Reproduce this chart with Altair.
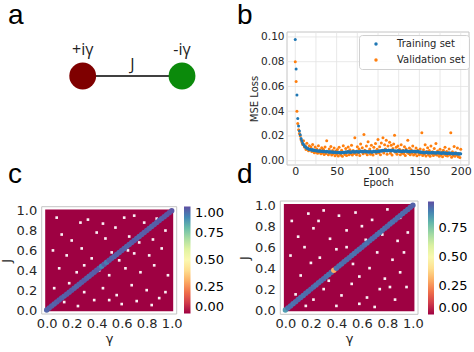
import altair as alt
import pandas as pd

# ---------------- data ----------------
# panel a: two sites joined by a coupling J
site_pos = [0, 1]
site_row = [0, 0]
site_label = ["+iγ", "-iγ"]
site_colour = ["#7f0000", "#0b8a0b"]
label_row = [1, 1]
coupling_label = ["J"]
coupling_pos = [0.5]
coupling_row = [0.42]

# panel b: loss curves
epoch = list(range(201))
train_loss = [
    0.098, 0.074, 0.053, 0.034, 0.028, 0.024, 0.021, 0.018, 0.016, 0.014,
    0.013, 0.012, 0.011, 0.011, 0.010, 0.010, 0.0095, 0.009, 0.0092, 0.0088,
    0.0085, 0.009, 0.0082, 0.0086, 0.008, 0.0083, 0.0079, 0.0081, 0.0077, 0.008,
    0.0076, 0.0079, 0.0074, 0.0078, 0.0072, 0.0076, 0.0075, 0.0071, 0.0077, 0.0073,
    0.0072, 0.0069, 0.0074, 0.007, 0.0068, 0.0073, 0.0066, 0.007, 0.0067, 0.0071,
    0.0065, 0.0069, 0.0064, 0.0068, 0.0066, 0.0063, 0.0067, 0.0065, 0.0069, 0.0064,
    0.0068, 0.0072, 0.0066, 0.007, 0.0074, 0.0069, 0.0073, 0.0067, 0.0071, 0.0075,
    0.007, 0.0074, 0.0068, 0.0072, 0.0077, 0.0071, 0.0075, 0.0069, 0.0073, 0.0078,
    0.0072, 0.0076, 0.007, 0.0074, 0.0079, 0.0073, 0.0077, 0.0071, 0.0075, 0.0069,
    0.0073, 0.0077, 0.0071, 0.0068, 0.0074, 0.0078, 0.0072, 0.0076, 0.007, 0.0074,
    0.0079, 0.0075, 0.0081, 0.0077, 0.0083, 0.0078, 0.0084, 0.008, 0.0086, 0.0081,
    0.0085, 0.0079, 0.0083, 0.0087, 0.0081, 0.0085, 0.0078, 0.0082, 0.0086, 0.008,
    0.0077, 0.0081, 0.0075, 0.0079, 0.0083, 0.0076, 0.008, 0.0074, 0.0078, 0.0072,
    0.0076, 0.008, 0.0074, 0.0078, 0.0082, 0.0075, 0.0079, 0.0073, 0.0077, 0.0071,
    0.0075, 0.0079, 0.0073, 0.0077, 0.0072, 0.0076, 0.007, 0.0074, 0.0078, 0.0072,
    0.0068, 0.0072, 0.0066, 0.007, 0.0065, 0.0069, 0.0063, 0.0067, 0.0071, 0.0065,
    0.0069, 0.0063, 0.0067, 0.0061, 0.0065, 0.0069, 0.0063, 0.0067, 0.0062, 0.0066,
    0.006, 0.0064, 0.0068, 0.0062, 0.0066, 0.006, 0.0064, 0.0058, 0.0062, 0.0066,
    0.006, 0.0064, 0.0058, 0.0062, 0.0056, 0.006, 0.0064, 0.0058, 0.0062, 0.0056,
    0.006, 0.0054, 0.0058, 0.0062, 0.0056, 0.006, 0.0054, 0.0058, 0.0052, 0.0056,
    0.0055,
]
val_loss = [
    0.080, 0.064, 0.040, 0.030, 0.025, 0.022, 0.020, 0.017, 0.015, 0.013,
    0.016, 0.011, 0.012, 0.009, 0.014, 0.010, 0.008, 0.012, 0.0095, 0.011,
    0.0075, 0.013, 0.0085, 0.0065, 0.011, 0.007, 0.0095, 0.006, 0.012, 0.0068,
    0.0088, 0.0055, 0.0105, 0.0062, 0.0092, 0.005, 0.011, 0.0058, 0.016, 0.0072,
    0.0048, 0.0095, 0.006, 0.0115, 0.0045, 0.0082, 0.0055, 0.0102, 0.004, 0.0078,
    0.0052, 0.009, 0.0038, 0.0108, 0.0058, 0.0046, 0.0085, 0.0035, 0.012, 0.0062,
    0.005, 0.0098, 0.0042, 0.0075, 0.011, 0.0048, 0.0088, 0.0055, 0.0125, 0.0045,
    0.0082, 0.0058, 0.0185, 0.0068, 0.0048, 0.0112, 0.0062, 0.0095, 0.0042, 0.0135,
    0.0072, 0.0105, 0.0055, 0.0212, 0.0085, 0.0062, 0.0118, 0.0048, 0.0152, 0.0078,
    0.0095, 0.0052, 0.0125, 0.0068, 0.0045, 0.0108, 0.0072, 0.0138, 0.0058, 0.0092,
    0.0172, 0.0065, 0.0112, 0.0048, 0.0142, 0.0078, 0.0185, 0.0062, 0.0128, 0.0095,
    0.0165, 0.0052, 0.0118, 0.0082, 0.0148, 0.006, 0.0125, 0.0045, 0.0098, 0.0135,
    0.0205, 0.0068, 0.0108, 0.0052, 0.0118, 0.0075, 0.0092, 0.0048, 0.0128, 0.0062,
    0.0085, 0.0055, 0.0112, 0.0042, 0.0095, 0.0068, 0.0165, 0.0058, 0.0102, 0.0048,
    0.0088, 0.0062, 0.0118, 0.0045, 0.0078, 0.0055, 0.0102, 0.004, 0.0085, 0.0065,
    0.0048, 0.0095, 0.0058, 0.0225, 0.0042, 0.0088, 0.0052, 0.0128, 0.0038, 0.0075,
    0.0105, 0.0048, 0.0082, 0.0035, 0.0118, 0.0055, 0.0072, 0.0042, 0.0098, 0.0052,
    0.0138, 0.0045, 0.0078, 0.0058, 0.0035, 0.0092, 0.0048, 0.0068, 0.0032, 0.0085,
    0.0052, 0.0108, 0.0042, 0.0075, 0.0038, 0.0062, 0.0095, 0.0045, 0.0225, 0.0028,
    0.0072, 0.0042, 0.0115, 0.0035, 0.0065, 0.0048, 0.0102, 0.0032, 0.0058, 0.0025,
    0.0092,
]
series_names = ["Training set", "Validation set"]
series_colours = ["#1f77b4", "#ff7f0e"]
epoch_ticks = [0, 25, 50, 75, 100, 125, 150, 175, 200]
loss_ticks = [0.0, 0.02, 0.04, 0.06, 0.08, 0.10]
epoch_lim = [-10, 210]
loss_lim = [-0.0035, 0.104]

# panels c, d: (gamma, J) plane
unit_ticks = [0.0, 0.2, 0.4, 0.6, 0.8, 1.0]
plane_lim = [-0.04, 1.04]
cloud_extent = [-0.012, 1.012]
cloud_value = [0.0]
diag_gamma = [0.00, 0.02, 0.04, 0.06, 0.08, 0.10, 0.12, 0.14, 0.16, 0.18,
              0.20, 0.22, 0.24, 0.26, 0.28, 0.30, 0.32, 0.34, 0.36, 0.38,
              0.40, 0.42, 0.44, 0.46, 0.48, 0.50, 0.52, 0.54, 0.56, 0.58,
              0.60, 0.62, 0.64, 0.66, 0.68, 0.70, 0.72, 0.74, 0.76, 0.78,
              0.80, 0.82, 0.84, 0.86, 0.88, 0.90, 0.92, 0.94, 0.96, 0.98, 1.00]
diag_value_c = [0.96, 0.97, 0.97, 0.96, 0.97, 0.98, 0.97, 0.96, 0.97, 0.97,
                0.98, 0.97, 0.96, 0.97, 0.97, 0.98, 0.97, 0.96, 0.97, 0.97,
                0.98, 0.97, 0.90, 0.97, 0.92, 0.98, 0.97, 0.96, 0.97, 0.97,
                0.98, 0.97, 0.96, 0.97, 0.97, 0.98, 0.97, 0.96, 0.97, 0.97,
                0.98, 0.97, 0.96, 0.97, 0.97, 0.98, 0.97, 0.98, 0.98, 0.99, 0.99]
diag_value_d = [0.85, 0.92, 0.93, 0.92, 0.93, 0.94, 0.93, 0.92, 0.93, 0.93,
                0.94, 0.93, 0.92, 0.93, 0.93, 0.94, 0.93, 0.92, 0.93, 0.30,
                0.92, 0.93, 0.92, 0.93, 0.93, 0.94, 0.93, 0.92, 0.93, 0.93,
                0.94, 0.93, 0.92, 0.93, 0.93, 0.94, 0.93, 0.92, 0.93, 0.93,
                0.94, 0.93, 0.92, 0.93, 0.93, 0.94, 0.93, 0.94, 0.94, 0.95, 0.95]
gap_c_gamma = [0.08, 0.27, 0.33, 0.55, 0.62, 0.70, 0.78, 0.88, 0.95, 0.12, 0.20, 0.40, 0.47,
               0.66, 0.74, 0.85, 0.05, 0.16, 0.28, 0.36, 0.52, 0.58, 0.70, 0.82, 0.92, 0.10,
               0.24, 0.42, 0.50, 0.63, 0.75, 0.86, 0.97, 0.06, 0.18, 0.30, 0.45, 0.56, 0.68,
               0.80, 0.90, 0.14, 0.25, 0.38, 0.60, 0.72, 0.84, 0.95, 0.45, 0.30, 0.65, 0.50]
gap_c_J = [0.93, 0.88, 0.91, 0.83, 0.93, 0.95, 0.88, 0.92, 0.80, 0.76, 0.70, 0.78, 0.72,
           0.74, 0.68, 0.71, 0.60, 0.55, 0.62, 0.52, 0.58, 0.50, 0.57, 0.55, 0.62, 0.42,
           0.38, 0.40, 0.35, 0.42, 0.38, 0.45, 0.35, 0.22, 0.27, 0.18, 0.22, 0.15, 0.25,
           0.20, 0.12, 0.08, 0.04, 0.10, 0.06, 0.09, 0.05, 0.18, 0.87, 0.45, 0.60, 0.10]
gap_d_gamma = [0.05, 0.18, 0.30, 0.42, 0.55, 0.68, 0.80, 0.90, 0.10, 0.22, 0.35, 0.48, 0.60,
               0.76, 0.88, 0.96, 0.04, 0.15, 0.27, 0.40, 0.53, 0.72, 0.84, 0.93, 0.12, 0.20,
               0.34, 0.58, 0.66, 0.78, 0.90, 0.08, 0.22, 0.30, 0.44, 0.52, 0.64, 0.74, 0.86,
               0.95, 0.16, 0.40, 0.58, 0.70, 0.82, 0.26, 0.63, 0.48]
gap_d_J = [0.85, 0.92, 0.95, 0.90, 0.93, 0.86, 0.96, 0.88, 0.70, 0.78, 0.68, 0.76, 0.80,
           0.72, 0.66, 0.74, 0.52, 0.60, 0.50, 0.58, 0.44, 0.55, 0.48, 0.55, 0.33, 0.45,
           0.28, 0.32, 0.40, 0.30, 0.36, 0.15, 0.10, 0.20, 0.14, 0.25, 0.12, 0.20, 0.10,
           0.22, 0.04, 0.04, 0.06, 0.03, 0.22, 0.85, 0.67, 0.60]

panel_letters = ["a", "b", "c", "d"]
panel_col = [0, 1, 0, 1]
panel_row = [0, 0, 1, 1]

# ---------------- layout (pixel ranges) ----------------
W, H = 474, 352
A_X, A_Y = [82.7, 182.0], [76.0, 50.0]
B_X, B_Y = [287.0, 469.0], [165.0, 32.0]
C_X, C_Y = [41.7, 176.7], [314.0, 206.7]
D_X, D_Y = [280.3, 418.0], [314.3, 201.0]
FONT = "DejaVu Sans"
TXT = "#262626"
FRAME = "#c4c4c4"
GRID = "#e2e2e2"

# ---------------- panel a ----------------
ax_s = alt.Scale(domain=[0, 1], range=A_X)
ay_s = alt.Scale(domain=[0, 1], range=A_Y)
sites = pd.DataFrame({"g": site_pos, "r": site_row, "lab": site_label,
                      "col": site_colour, "lr": label_row})
bond = pd.DataFrame({"g0": [site_pos[0]], "g1": [site_pos[1]], "r": [site_row[0]]})
coup = pd.DataFrame({"g": coupling_pos, "r": coupling_row, "lab": coupling_label})

a_bond = alt.Chart(bond).mark_rule(color="black", strokeWidth=1.4).encode(
    x=alt.X("g0:Q", scale=ax_s, axis=None), x2="g1",
    y=alt.Y("r:Q", scale=ay_s, axis=None))
a_sites = alt.Chart(sites).mark_point(filled=True, opacity=1, size=720, shape="circle").encode(
    x=alt.X("g:Q", scale=ax_s, axis=None), y=alt.Y("r:Q", scale=ay_s, axis=None),
    color=alt.Color("col:N", scale=None))
a_labels = alt.Chart(sites).mark_text(font="Open Sans", fontSize=16, color="#222",
                                      baseline="middle").encode(
    x=alt.X("g:Q", scale=ax_s, axis=None), y=alt.Y("lr:Q", scale=ay_s, axis=None),
    text="lab:N")
a_coup = alt.Chart(coup).mark_text(font="Open Sans", fontSize=16, color="#222",
                                   baseline="middle").encode(
    x=alt.X("g:Q", scale=ax_s, axis=None), y=alt.Y("r:Q", scale=ay_s, axis=None),
    text="lab:N")
panel_a = alt.layer(a_bond, a_sites, a_labels, a_coup)

# ---------------- panel b ----------------
bx_s = alt.Scale(domain=epoch_lim, range=B_X, nice=False, zero=False)
by_s = alt.Scale(domain=loss_lim, range=B_Y, nice=False, zero=False)
loss_df = pd.DataFrame({
    "epoch": epoch + epoch,
    "loss": val_loss + train_loss,
    "series": [series_names[1]] * len(epoch) + [series_names[0]] * len(epoch),
})
vgrid = pd.DataFrame({"e": epoch_ticks, "lo": [loss_lim[0]] * len(epoch_ticks),
                      "hi": [loss_lim[1]] * len(epoch_ticks)})
hgrid = pd.DataFrame({"l": loss_ticks, "lo": [epoch_lim[0]] * len(loss_ticks),
                      "hi": [epoch_lim[1]] * len(loss_ticks)})
bframe = pd.DataFrame({"x0": [epoch_lim[0]], "x1": [epoch_lim[1]],
                       "y0": [loss_lim[0]], "y1": [loss_lim[1]]})

b_frame = alt.Chart(bframe).mark_rect(fillOpacity=0, stroke=FRAME, strokeWidth=1).encode(
    x=alt.X("x0:Q", scale=bx_s, axis=alt.Axis(
        values=epoch_ticks, orient="bottom", offset=B_Y[0] - H, tickSize=0, domain=False,
        grid=False, labelFontSize=11, labelPadding=0, labelFont=FONT, labelColor=TXT,
        title="Epoch", titleFont=FONT, titleFontSize=10, titleFontWeight="normal",
        titleColor=TXT, titlePadding=1, labelFlush=False)),
    x2="x1",
    y=alt.Y("y0:Q", scale=by_s, axis=alt.Axis(
        values=loss_ticks, format=".2f", orient="left", offset=-B_X[0], tickSize=0,
        domain=False, grid=False, labelFontSize=10.5, labelPadding=3, labelFont=FONT,
        labelColor=TXT, title="MSE Loss", titleFont=FONT, titleFontSize=10,
        titleFontWeight="normal", titleColor=TXT, titlePadding=1)),
    y2="y1")
b_vgrid = alt.Chart(vgrid).mark_rule(color=GRID, strokeWidth=0.8).encode(
    x=alt.X("e:Q", scale=bx_s),
    y=alt.Y("lo:Q", scale=by_s), y2="hi")
b_hgrid = alt.Chart(hgrid).mark_rule(color=GRID, strokeWidth=0.8).encode(
    y=alt.Y("l:Q", scale=by_s),
    x=alt.X("lo:Q", scale=bx_s), x2="hi")
b_points = alt.Chart(loss_df).mark_circle(size=9, opacity=1).encode(
    x=alt.X("epoch:Q", scale=bx_s),
    y=alt.Y("loss:Q", scale=by_s),
    color=alt.Color("series:N", scale=alt.Scale(domain=series_names, range=series_colours),
                    legend=alt.Legend(orient="none", legendX=359, legendY=35, title=None,
                                      padding=4, symbolOffset=8, labelOffset=16, rowPadding=6,
                                      labelFontSize=10, labelFont=FONT, labelColor=TXT,
                                      strokeColor="#d0d0d0", fillColor="rgba(255,255,255,0.85)",
                                      cornerRadius=3, symbolSize=12, symbolType="circle")))
panel_b = alt.layer(b_frame, b_vgrid, b_hgrid, b_points)


# ---------------- panels c and d ----------------
def plane_panel(xr, yr, gap_g, gap_j, diag_v, cdomain, cvalues, lx, ly, glen, gthick):
    xs = alt.Scale(domain=plane_lim, range=xr, nice=False, zero=False)
    ys = alt.Scale(domain=plane_lim, range=yr, nice=False, zero=False)
    cs = alt.Scale(scheme="spectral", domain=cdomain)
    cloud = pd.DataFrame({"g0": [cloud_extent[0]], "g1": [cloud_extent[1]],
                          "j0": [cloud_extent[0]], "j1": [cloud_extent[1]], "v": cloud_value})
    gaps = pd.DataFrame({"g": gap_g, "j": gap_j})
    diag = pd.DataFrame({"g": diag_gamma, "j": diag_gamma, "v": diag_v})
    frame = pd.DataFrame({"x0": [plane_lim[0]], "x1": [plane_lim[1]],
                          "y0": [plane_lim[0]], "y1": [plane_lim[1]]})
    fr = alt.Chart(frame).mark_rect(fillOpacity=0, stroke=FRAME, strokeWidth=1).encode(
        x=alt.X("x0:Q", scale=xs, axis=alt.Axis(
            values=unit_ticks, format=".1f", orient="bottom", offset=yr[0] - H, tickSize=0,
            domain=False, grid=False, labelFontSize=13, labelPadding=3.5, labelFont=FONT,
            labelColor=TXT, labelFlush=False, title="γ", titleFont=FONT, titleFontSize=13,
            titleFontWeight="normal", titleColor=TXT, titlePadding=2)),
        x2="x1",
        y=alt.Y("y0:Q", scale=ys, axis=alt.Axis(
            values=unit_ticks, format=".1f", orient="left", offset=-xr[0], tickSize=0,
            domain=False, grid=False, labelFontSize=13, labelPadding=5, labelFont=FONT,
            labelColor=TXT, labelFlush=False, title="J", titleFont=FONT, titleFontSize=13,
            titleFontWeight="normal", titleColor=TXT, titlePadding=3)),
        y2="y1")
    bg = alt.Chart(cloud).mark_rect().encode(
        x=alt.X("g0:Q", scale=xs), x2="g1",
        y=alt.Y("j0:Q", scale=ys), y2="j1",
        color=alt.Color("v:Q", scale=cs, legend=alt.Legend(
            orient="none", legendX=lx, legendY=ly, title=None, padding=0,
            direction="vertical", gradientLength=glen, gradientThickness=gthick,
            gradientStrokeWidth=0, values=cvalues, format=".2f", labelFontSize=13,
            labelFont=FONT, labelColor="black", labelOffset=4.5, labelBaseline="middle")))
    holes = alt.Chart(gaps).mark_point(shape="square", filled=True, color="white",
                                       size=7, opacity=0.95).encode(
        x=alt.X("g:Q", scale=xs), y=alt.Y("j:Q", scale=ys))
    line = alt.Chart(diag).mark_circle(size=30, opacity=1).encode(
        x=alt.X("g:Q", scale=xs), y=alt.Y("j:Q", scale=ys),
        color=alt.Color("v:Q", scale=cs))
    return alt.layer(bg, holes, line, fr)


panel_c = plane_panel(C_X, C_Y, gap_c_gamma, gap_c_J, diag_value_c, [0, 1],
                      [0, 0.25, 0.5, 0.75, 1.0], 184, 206.5, 107, 6.5)
panel_d = plane_panel(D_X, D_Y, gap_d_gamma, gap_d_J, diag_value_d, [0, 0.985],
                      [0, 0.25, 0.5, 0.75], 428, 201.5, 113, 6)

# ---------------- panel letters ----------------
letters = pd.DataFrame({"lab": panel_letters, "c": panel_col, "r": panel_row})
lbl = alt.Chart(letters).mark_text(font="Liberation Sans", fontSize=28, color="black",
                                   align="left", baseline="alphabetic").encode(
    x=alt.X("c:Q", scale=alt.Scale(domain=[0, 1], range=[8, 237]), axis=None),
    y=alt.Y("r:Q", scale=alt.Scale(domain=[0, 1], range=[24, 183]), axis=None),
    text="lab:N")

chart = alt.layer(panel_a, panel_b, panel_c, panel_d, lbl).resolve_scale(
    x="independent", y="independent", color="independent"
).properties(
    width=W, height=H, autosize=alt.AutoSizeParams(type="none"), padding=0,
    background="white"
).configure_view(stroke=None)

chart.save("out.html", embed_options={"renderer": "svg", "actions": False})
